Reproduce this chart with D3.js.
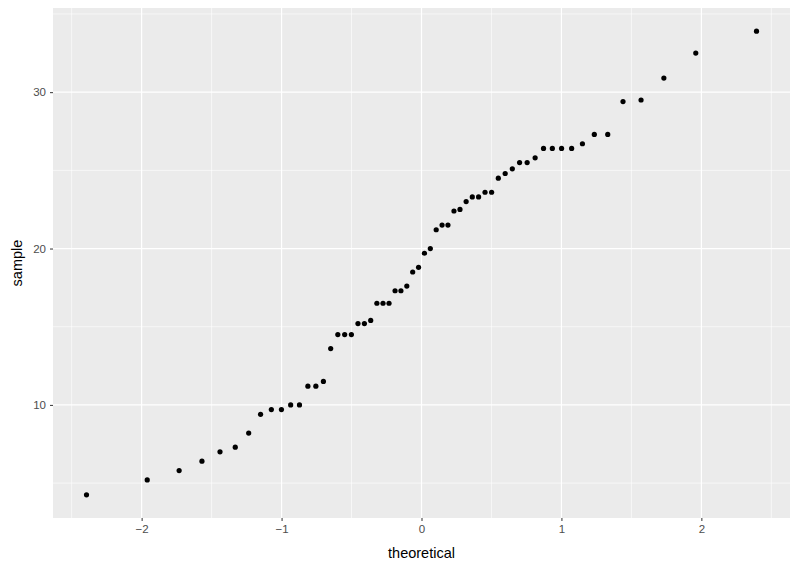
<!DOCTYPE html>
<html>
<head>
<meta charset="UTF-8">
<script src="https://d3js.org/d3.v7.min.js"></script>
<style>
  body { margin: 0; background: #fff; }
  text { font-family: "Liberation Sans", Arial, sans-serif; }
</style>
</head>
<body>
<svg id="chart" width="800" height="571"></svg>
<script>
// theoretical normal quantiles (n = 60) and sorted sample values
const theoretical = [-2.394, -1.960, -1.732, -1.569, -1.440, -1.331, -1.235, -1.150, -1.073, -1.001,
  -0.935, -0.872, -0.812, -0.755, -0.701, -0.649, -0.598, -0.549, -0.501, -0.454,
  -0.408, -0.363, -0.319, -0.275, -0.232, -0.189, -0.147, -0.105, -0.063, -0.021,
  0.021, 0.063, 0.105, 0.147, 0.189, 0.232, 0.275, 0.319, 0.363, 0.408,
  0.454, 0.501, 0.549, 0.598, 0.649, 0.701, 0.755, 0.812, 0.872, 0.935,
  1.001, 1.073, 1.150, 1.235, 1.331, 1.440, 1.569, 1.732, 1.960, 2.394];
const sample = [4.25, 5.2, 5.8, 6.4, 7.0, 7.3, 8.2, 9.4, 9.7, 9.7,
  10.0, 10.0, 11.2, 11.2, 11.5, 13.6, 14.5, 14.5, 14.5, 15.2,
  15.2, 15.4, 16.5, 16.5, 16.5, 17.3, 17.3, 17.6, 18.5, 18.8,
  19.7, 20.0, 21.2, 21.5, 21.5, 22.4, 22.5, 23.0, 23.3, 23.3,
  23.6, 23.6, 24.5, 24.8, 25.1, 25.5, 25.5, 25.8, 26.4, 26.4,
  26.4, 26.4, 26.7, 27.3, 27.3, 29.4, 29.5, 30.9, 32.5, 33.9];
const xTicks = [-2, -1, 0, 1, 2];
const xMinor = [-2.5, -1.5, -0.5, 0.5, 1.5, 2.5];
const yTicks = [10, 20, 30];
const yMinor = [5, 15, 25, 35];

const svg = d3.select('#chart');
const mL = 53, mR = 790, mT = 8, mB = 518;

const xExt = d3.extent(theoretical), yExt = d3.extent(sample);
const xPad = (xExt[1] - xExt[0]) * 0.05, yPad = (yExt[1] - yExt[0]) * 0.05;
const x = d3.scaleLinear().domain([xExt[0] - xPad, xExt[1] + xPad]).range([mL, mR]);
const y = d3.scaleLinear().domain([yExt[0] - yPad, yExt[1] + yPad]).range([mB, mT]);

svg.append('rect').attr('x', mL).attr('y', mT)
  .attr('width', mR - mL).attr('height', mB - mT).attr('fill', '#ebebeb');

const grid = svg.append('g').attr('stroke', '#fff');
grid.selectAll('.xm').data(xMinor).enter().append('line')
  .attr('x1', d => x(d)).attr('x2', d => x(d)).attr('y1', mT).attr('y2', mB).attr('stroke-width', 0.6);
grid.selectAll('.ym').data(yMinor).enter().append('line')
  .attr('y1', d => y(d)).attr('y2', d => y(d)).attr('x1', mL).attr('x2', mR).attr('stroke-width', 0.6);
grid.selectAll('.xM').data(xTicks).enter().append('line')
  .attr('x1', d => x(d)).attr('x2', d => x(d)).attr('y1', mT).attr('y2', mB).attr('stroke-width', 1.2);
grid.selectAll('.yM').data(yTicks).enter().append('line')
  .attr('y1', d => y(d)).attr('y2', d => y(d)).attr('x1', mL).attr('x2', mR).attr('stroke-width', 1.2);

// axes
const xAxis = svg.append('g').attr('transform', `translate(0,${mB})`)
  .call(d3.axisBottom(x).tickValues(xTicks).tickSize(3).tickPadding(4).tickFormat(d3.format('d')));
const yAxis = svg.append('g').attr('transform', `translate(${mL},0)`)
  .call(d3.axisLeft(y).tickValues(yTicks).tickSize(3).tickPadding(4));
[xAxis, yAxis].forEach(a => {
  a.select('.domain').remove();
  a.selectAll('line').attr('stroke', '#333');
  a.selectAll('text').attr('fill', '#4d4d4d').style('font-size', '11.5px')
    .style('font-family', '"Liberation Sans", Arial, sans-serif');
});

svg.selectAll('.pt').data(sample).enter().append('circle')
  .attr('cx', (d, i) => x(theoretical[i])).attr('cy', d => y(d))
  .attr('r', 2.6).attr('fill', '#000');

svg.append('text').attr('x', (mL + mR) / 2).attr('y', 558)
  .attr('text-anchor', 'middle').style('font-size', '14.5px').text('theoretical');
svg.append('text').attr('transform', `translate(22,${(mT + mB) / 2}) rotate(-90)`)
  .attr('text-anchor', 'middle').style('font-size', '14.5px').text('sample');
</script>
</body>
</html>
